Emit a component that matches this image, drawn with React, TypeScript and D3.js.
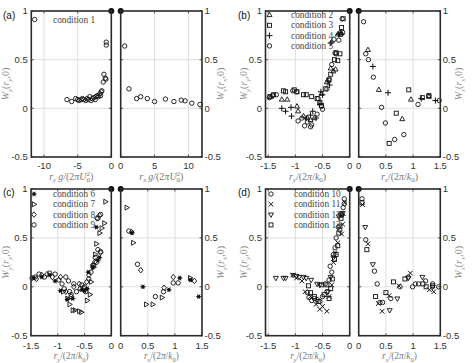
import React from "react";
import * as d3 from "d3";

type Pt = [number, number];

// ---------- DATA ----------
// Panel (a)
const A_LEFT_C1: Pt[] = [[-6.6,0.09],[-5.9,0.07],[-5.3,0.10],[-5.0,0.09],[-4.8,0.08],[-4.5,0.09],[-4.3,0.10],[-4.1,0.09],[-3.8,0.08],[-3.6,0.10],[-3.4,0.09],[-3.2,0.12],[-3.0,0.08],[-2.8,0.10],[-2.6,0.11],[-2.4,0.09],[-2.3,0.12],[-2.1,0.13],[-1.9,0.12],[-1.7,0.15],[-1.6,0.13],[-1.5,0.17],[-1.4,0.18],[-1.2,0.27],[-1.1,0.35],[-0.9,0.31],[-0.8,0.30],[-0.75,0.68],[-0.75,0.65]];
const A_RIGHT_C1: Pt[] = [[0.59,0.64],[1.22,0.20],[2.35,0.10],[2.95,0.12],[3.93,0.10],[5.0,0.07],[6.6,0.095],[7.86,0.07],[8.94,0.084],[9.5,0.077],[10.5,0.053],[11.7,0.04]];

// Panel (b)
const B_LEFT_C2: Pt[] = [[-1.45,0.12],[-1.25,0.09],[-1.15,0.09],[-0.97,0.02],[-0.95,-0.03],[-0.85,-0.08],[-0.78,-0.10],[-0.72,-0.12],[-0.65,-0.10],[-0.55,0.05],[-0.52,0.15],[-0.42,0.27],[-0.35,0.41],[-0.30,0.38],[-0.26,0.40],[-0.22,0.76],[-0.18,0.78],[-0.15,0.77]];
const B_LEFT_C3: Pt[] = [[-1.47,0.12],[-1.40,0.14],[-1.22,0.18],[-1.18,0.17],[-1.02,0.19],[-0.97,0.17],[-0.85,0.14],[-0.80,0.14],[-0.70,0.12],[-0.60,0.10],[-0.55,0.06],[-0.52,0.03],[-0.45,0.20],[-0.38,0.29],[-0.35,0.35],[-0.28,0.50],[-0.25,0.57],[-0.22,0.49],[-0.18,0.56],[-0.17,0.76],[-0.15,0.83],[-0.12,0.92]];
const B_LEFT_C4: Pt[] = [[-1.25,0.00],[-1.18,-0.03],[-1.08,0.01],[-1.07,-0.08],[-0.80,-0.10],[-0.72,-0.07],[-0.68,-0.03],[-0.62,-0.10],[-0.53,0.17],[-0.50,0.14],[-0.40,0.28],[-0.37,0.24],[-0.35,0.67],[-0.33,0.68],[-0.20,0.76]];
const B_LEFT_C5: Pt[] = [[-1.48,0.11],[-1.42,0.13],[-1.35,0.14],[-1.05,0.18],[-0.98,0.17],[-0.95,-0.13],[-0.88,-0.10],[-0.83,-0.18],[-0.78,-0.14],[-0.72,-0.19],[-0.70,-0.17],[-0.60,-0.06],[-0.58,0.10],[-0.52,0.02],[-0.50,-0.01],[-0.42,0.20],[-0.38,0.30],[-0.33,0.45],[-0.29,0.71],[-0.27,0.57],[-0.25,0.56],[-0.20,0.70],[-0.13,0.78],[-0.14,0.92]];
const B_RIGHT_C2: Pt[] = [[0.17,0.60],[0.37,0.19],[0.80,-0.11],[0.96,0.09],[1.29,0.12]];
const B_RIGHT_C3: Pt[] = [[0.56,-0.36],[0.69,-0.05],[0.92,0.19],[1.17,0.11],[1.29,0.13]];
const B_RIGHT_C4: Pt[] = [[0.26,0.43],[0.54,0.16],[1.15,0.10],[1.41,0.08]];
const B_RIGHT_C5: Pt[] = [[0.09,0.89],[0.13,0.56],[0.18,0.50],[0.27,0.32],[0.42,0.01],[0.49,-0.15],[0.66,-0.32],[0.83,-0.27],[1.09,0.04],[1.29,0.13],[1.48,0.08]];

// Panel (c)
const C_LEFT_C6: Pt[] = [[-1.45,0.09],[-1.3,0.10],[-1.15,0.12],[-1.05,0.06],[-0.95,-0.04],[-0.82,-0.13],[-0.72,-0.12],[-0.55,-0.03],[-0.5,-0.04],[-0.45,-0.02],[-0.43,0.15],[-0.35,0.20],[-0.28,0.61],[-0.25,0.27],[-0.22,0.30]];
const C_LEFT_C7: Pt[] = [[-0.90,-0.05],[-0.82,-0.12],[-0.78,-0.18],[-0.72,-0.24],[-0.68,-0.24],[-0.60,-0.25],[-0.56,-0.26],[-0.45,-0.14],[-0.40,-0.08],[-0.38,0.05],[-0.33,0.20],[-0.30,0.33],[-0.28,0.44],[-0.22,0.55],[-0.18,0.60],[-0.13,0.65],[-0.11,0.87]];
const C_LEFT_C8: Pt[] = [[-1.40,0.08],[-1.30,0.12],[-1.20,0.13],[-1.10,0.10],[-0.95,0.10],[-0.85,-0.05],[-0.75,-0.10],[-0.70,0.0],[-0.60,0.03],[-0.52,-0.01],[-0.46,0.05],[-0.42,0.12],[-0.35,0.22],[-0.30,0.26],[-0.27,0.70],[-0.22,0.73],[-0.20,0.35]];
const C_LEFT_C9: Pt[] = [[-1.48,0.09],[-1.42,0.10],[-1.35,0.13],[-1.25,0.10],[-1.15,0.14],[-1.05,0.13],[-0.98,0.07],[-0.92,0.03],[-0.88,-0.02],[-0.85,0.10],[-0.80,0.06],[-0.78,-0.05],[-0.75,-0.08],[-0.70,0.03],[-0.65,-0.05],[-0.58,-0.02],[-0.55,0.02],[-0.50,0.0],[-0.48,-0.05],[-0.42,0.08],[-0.38,0.15],[-0.33,0.22],[-0.30,0.30],[-0.28,0.25],[-0.25,0.38],[-0.20,0.36],[-0.25,0.70],[-0.20,0.74]];
const C_RIGHT_C6: Pt[] = [[0.21,0.55],[0.41,0.0],[0.89,-0.03],[1.09,0.09],[1.29,0.07],[1.44,-0.10]];
const C_RIGHT_C7: Pt[] = [[0.11,0.81],[0.23,0.45],[0.47,-0.18],[0.59,-0.18],[0.76,-0.11],[1.28,0.09]];
const C_RIGHT_C8: Pt[] = [[0.20,0.56],[0.37,0.17],[0.80,-0.01],[0.97,0.10],[1.36,0.06]];
const C_RIGHT_C9: Pt[] = [[0.15,0.57],[0.31,0.23],[0.64,-0.10],[0.79,-0.05],[0.97,0.04],[1.06,0.04]];

// Panel (d)
const D_LEFT_C10: Pt[] = [[-0.78,-0.06],[-0.75,-0.11],[-0.70,-0.14],[-0.65,-0.12],[-0.60,-0.13],[-0.55,-0.15],[-0.50,-0.10],[-0.45,0.03],[-0.42,-0.05],[-0.38,0.07],[-0.36,0.21],[-0.33,0.15],[-0.30,0.33],[-0.27,0.40],[-0.25,0.50],[-0.21,0.61],[-0.18,0.58],[-0.15,0.73],[-0.12,0.81],[-0.10,0.90],[-0.10,0.85]];
const D_LEFT_C11: Pt[] = [[-1.05,0.12],[-0.98,0.09],[-0.88,0.06],[-0.82,-0.05],[-0.72,-0.10],[-0.62,-0.18],[-0.55,-0.23],[-0.50,-0.20],[-0.42,-0.25],[-0.38,-0.10],[-0.33,0.02],[-0.30,0.25],[-0.27,0.35],[-0.22,0.45],[-0.15,0.54],[-0.13,0.64],[-0.12,0.75],[-0.09,0.86]];
const D_LEFT_C12: Pt[] = [[-1.36,0.09],[-1.22,0.09],[-1.18,0.09],[-1.04,0.12],[-0.98,0.11],[-0.93,0.10],[-0.85,0.10],[-0.80,0.09],[-0.71,0.07],[-0.60,0.03],[-0.55,0.02],[-0.40,-0.05],[-0.35,0.10],[-0.30,0.30],[-0.20,0.72],[-0.17,0.74]];
const D_LEFT_C13: Pt[] = [[-0.76,0.01],[-0.72,-0.06],[-0.65,-0.10],[-0.58,-0.15],[-0.52,0.02],[-0.47,-0.08],[-0.42,0.02],[-0.38,-0.12],[-0.35,-0.02],[-0.32,0.08],[-0.28,0.28],[-0.25,0.33],[-0.22,0.42],[-0.20,0.55],[-0.18,0.62],[-0.16,0.70],[-0.14,0.75]];
const D_RIGHT_C10: Pt[] = [[0.06,0.90],[0.13,0.48],[0.29,0.16],[0.34,0.03],[0.39,-0.16],[0.44,-0.16],[0.59,-0.12],[0.76,0.00],[0.91,0.10],[0.99,0.0],[1.04,0.03],[1.10,0.03],[1.23,0.06],[1.36,0.03],[1.47,0.0]];
const D_RIGHT_C11: Pt[] = [[0.07,0.84],[0.17,0.44],[0.36,-0.17],[0.43,-0.25],[0.56,-0.09],[0.74,0.01],[0.95,0.14],[1.30,-0.03],[1.38,-0.05]];
const D_RIGHT_C12: Pt[] = [[0.12,0.61],[0.26,0.23],[0.57,-0.24],[0.71,-0.12],[0.91,0.09],[1.17,0.10],[1.36,0.0]];
const D_RIGHT_C13: Pt[] = [[0.06,0.86],[0.15,0.38],[0.31,-0.10],[0.50,-0.06],[0.64,0.05],[0.85,0.08],[1.18,0.03],[1.24,0.0],[1.36,0.01]];

const ORIGIN_POINT: Pt[] = [[0, 1]];

const Y_TICKS = [-0.5, 0, 0.5, 1];
const X_TICKS_A_LEFT = [-10, -5, 0];
const X_TICKS_A_RIGHT = [0, 5, 10];
const X_TICKS_LEFT = [-1.5, -1, -0.5, 0];
const X_TICKS_RIGHT = [0, 0.5, 1, 1.5];

// ---------- RENDER HELPERS ----------
type Kind = "circle" | "triUp" | "triDown" | "triRight" | "square" | "diamond" | "plus" | "cross" | "star" | "dot";
const INK = "#111";

function Marker({ kind, x, y }: { kind: Kind; x: number; y: number }) {
  const sw = 0.9;
  const common = { fill: "none", stroke: INK, strokeWidth: sw };
  switch (kind) {
    case "circle":
      return <circle cx={x} cy={y} r={2.2} {...common} />;
    case "triUp":
      return <path d={`M${x},${y - 2.8}L${x + 2.5},${y + 1.6}L${x - 2.5},${y + 1.6}Z`} {...common} />;
    case "triDown":
      return <path d={`M${x},${y + 2.8}L${x + 2.5},${y - 1.6}L${x - 2.5},${y - 1.6}Z`} {...common} />;
    case "triRight":
      return <path d={`M${x + 2.8},${y}L${x - 1.6},${y - 2.5}L${x - 1.6},${y + 2.5}Z`} {...common} />;
    case "square":
      return <rect x={x - 2} y={y - 2} width={4} height={4} {...common} />;
    case "diamond":
      return <path d={`M${x},${y - 2.8}L${x + 2.3},${y}L${x},${y + 2.8}L${x - 2.3},${y}Z`} {...common} />;
    case "plus":
      return <path d={`M${x - 3},${y}H${x + 3}M${x},${y - 3}V${y + 3}`} {...common} strokeWidth={1} />;
    case "cross":
      return <path d={`M${x - 2.3},${y - 2.3}L${x + 2.3},${y + 2.3}M${x - 2.3},${y + 2.3}L${x + 2.3},${y - 2.3}`} {...common} strokeWidth={1} />;
    case "star":
      return (
        <g>
          <circle cx={x} cy={y} r={1.7} fill={INK} />
          <path d={`M${x - 2.6},${y}H${x + 2.6}M${x - 1.3},${y - 2.3}L${x + 1.3},${y + 2.3}M${x - 1.3},${y + 2.3}L${x + 1.3},${y - 2.3}`} stroke={INK} strokeWidth={0.9} />
        </g>
      );
    case "dot":
      return <circle cx={x} cy={y} r={3} fill={INK} />;
  }
  return null;
}

type Seg = { t: string; it?: boolean; sub?: boolean; sup?: boolean; dx?: number };
function rich(segs: Seg[], fs: number) {
  let cur = 0;
  return segs.map((s, i) => {
    const target = s.sub ? fs * 0.26 : s.sup ? -fs * 0.4 : 0;
    const dy = target - cur;
    cur = target;
    return (
      <tspan key={i} dy={dy} dx={s.dx ?? 0} fontSize={s.sub || s.sup ? fs * 0.7 : fs} fontStyle={s.it ? "italic" : "normal"}>
        {s.t}
      </tspan>
    );
  });
}

const WY: Seg[] = [{ t: "W", it: true }, { t: "y", it: true, sub: true }, { t: "(" }, { t: "r", it: true }, { t: "y", it: true, sub: true }, { t: ",0)" }];
const WX: Seg[] = [{ t: "W", it: true }, { t: "x", it: true, sub: true }, { t: "(" }, { t: "r", it: true }, { t: "x", it: true, sub: true }, { t: ",0)" }];
const XL_A_L: Seg[] = [{ t: "r", it: true }, { t: "y", it: true, sub: true }, { t: "\u2009g", it: true }, { t: "/(2" }, { t: "π", it: true }, { t: "U", it: true }, { t: "0", sub: true }, { t: "2", sup: true, dx: -3.5 }, { t: ")" }];
const XL_A_R: Seg[] = [{ t: "r", it: true }, { t: "x", it: true, sub: true }, { t: "\u2009g", it: true }, { t: "/(2" }, { t: "π", it: true }, { t: "U", it: true }, { t: "0", sub: true }, { t: "2", sup: true, dx: -3.5 }, { t: ")" }];
const XL_L: Seg[] = [{ t: "r", it: true }, { t: "y", it: true, sub: true }, { t: "/(2" }, { t: "π", it: true }, { t: "/" }, { t: "k", it: true }, { t: "0", sub: true }, { t: ")" }];
const XL_R: Seg[] = [{ t: "r", it: true }, { t: "x", it: true, sub: true }, { t: "/(2" }, { t: "π", it: true }, { t: "/" }, { t: "k", it: true }, { t: "0", sub: true }, { t: ")" }];

type Series = { kind: Kind; data: Pt[] };
type SubCfg = {
  x0: number; x1: number; top: number; bottom: number;
  domain: [number, number]; ticks: number[]; side: "left" | "right";
  series: Series[]; xlabel: Seg[]; ylabel: Seg[]; ylabelX: number;
  tickBase: number; xlabelBase: number; xlabelSize: number;
};

const SANS = "'Liberation Sans', Arial, Helvetica, sans-serif";
const SERIF = "'Liberation Serif', 'DejaVu Serif', serif";

function Subplot({ c }: { c: SubCfg }) {
  const xs = d3.scaleLinear().domain(c.domain).range([c.x0, c.x1]);
  const ys = d3.scaleLinear().domain([-0.5, 1]).range([c.bottom, c.top]);
  const gridX = c.ticks.filter((t) => xs(t) > c.x0 + 1 && xs(t) < c.x1 - 1);
  const gridY = Y_TICKS.filter((t) => t > -0.5 && t < 1);
  const tl = 2.5;
  const yMid = (c.top + c.bottom) / 2;
  return (
    <g>
      {gridX.map((t) => (
        <line key={"gx" + t} x1={xs(t)} x2={xs(t)} y1={c.top} y2={c.bottom} stroke="#dddddd" strokeWidth={0.9} />
      ))}
      {gridY.map((t) => (
        <line key={"gy" + t} x1={c.x0} x2={c.x1} y1={ys(t)} y2={ys(t)} stroke="#dddddd" strokeWidth={0.9} />
      ))}
      {c.ticks.map((t) => (
        <g key={"tx" + t}>
          <line x1={xs(t)} x2={xs(t)} y1={c.bottom} y2={c.bottom - tl} stroke="#333" strokeWidth={0.8} />
          <line x1={xs(t)} x2={xs(t)} y1={c.top} y2={c.top + tl} stroke="#333" strokeWidth={0.8} />
          <text x={xs(t)} y={c.tickBase} textAnchor="middle" fontFamily={SANS} fontSize={9.5} fill="#333">
            {String(t)}
          </text>
        </g>
      ))}
      {Y_TICKS.map((t) => (
        <g key={"ty" + t}>
          <line x1={c.x0} x2={c.x0 + tl} y1={ys(t)} y2={ys(t)} stroke="#333" strokeWidth={0.8} />
          <line x1={c.x1} x2={c.x1 - tl} y1={ys(t)} y2={ys(t)} stroke="#333" strokeWidth={0.8} />
          <text
            x={c.side === "left" ? c.x0 - 3.5 : c.x1 + 2.5}
            y={ys(t) + 3.4}
            textAnchor={c.side === "left" ? "end" : "start"}
            fontFamily={SANS}
            fontSize={9.5}
            fill="#333"
          >
            {String(t)}
          </text>
        </g>
      ))}
      {c.series.map((s, si) => (
        <g key={"s" + si}>
          {s.data.map((p, pi) => (
            <Marker key={pi} kind={s.kind} x={xs(p[0])} y={ys(p[1])} />
          ))}
        </g>
      ))}
      {ORIGIN_POINT.map((p, i) => (
        <Marker key={"o" + i} kind="dot" x={xs(p[0])} y={ys(p[1])} />
      ))}
      <rect x={c.x0} y={c.top} width={c.x1 - c.x0} height={c.bottom - c.top} fill="none" stroke="#2a2a2a" strokeWidth={1.6} />
      <text x={(c.x0 + c.x1) / 2} y={c.xlabelBase} textAnchor="middle" fontFamily={SERIF} fill="#777">
        {rich(c.xlabel, c.xlabelSize)}
      </text>
      <text
        transform={`translate(${c.ylabelX},${yMid}) rotate(-90)`}
        textAnchor="middle"
        fontFamily={SERIF}
        fill="#888"
      >
        {rich(c.ylabel, 10)}
      </text>
    </g>
  );
}

type LegendCfg = { markerX: number; textX: number; rows: number[]; items: { kind: Kind; label: string }[] };
function Legend({ l }: { l: LegendCfg }) {
  return (
    <g>
      {l.items.map((it, i) => (
        <g key={i}>
          <Marker kind={it.kind} x={l.markerX} y={l.rows[i]} />
          <text x={l.textX} y={l.rows[i] + 3} fontFamily={SERIF} fontSize={9.3} fill="#444">
            {it.label}
          </text>
        </g>
      ))}
    </g>
  );
}

// ---------- LAYOUT ----------
const ROW1 = { top: 11, bottom: 157, tickBase: 168.5, xlabelBase: 179.5, xlabelSize: 10 };
const ROW2 = { top: 189, bottom: 335.7, tickBase: 348.5, xlabelBase: 359.3, xlabelSize: 9.4 };

const SUBPLOTS: SubCfg[] = [
  { x0: 31.3, x1: 111.3, ...ROW1, domain: [-11.9, 0], ticks: X_TICKS_A_LEFT, side: "left", series: [{ kind: "circle", data: A_LEFT_C1 }], xlabel: XL_A_L, ylabel: WY, ylabelX: 9 },
  { x0: 120.7, x1: 202, ...ROW1, domain: [0, 12], ticks: X_TICKS_A_RIGHT, side: "right", series: [{ kind: "circle", data: A_RIGHT_C1 }], xlabel: XL_A_R, ylabel: WX, ylabelX: 224 },
  { x0: 265.5, x1: 349.7, ...ROW1, domain: [-1.55, 0], ticks: X_TICKS_LEFT, side: "left", series: [{ kind: "triUp", data: B_LEFT_C2 }, { kind: "square", data: B_LEFT_C3 }, { kind: "plus", data: B_LEFT_C4 }, { kind: "circle", data: B_LEFT_C5 }], xlabel: XL_L, ylabel: WY, ylabelX: 247 },
  { x0: 358.7, x1: 440.3, ...ROW1, domain: [0, 1.5], ticks: X_TICKS_RIGHT, side: "right", series: [{ kind: "triUp", data: B_RIGHT_C2 }, { kind: "square", data: B_RIGHT_C3 }, { kind: "plus", data: B_RIGHT_C4 }, { kind: "circle", data: B_RIGHT_C5 }], xlabel: XL_R, ylabel: WX, ylabelX: 462 },
  { x0: 31, x1: 111.3, ...ROW2, domain: [-1.5, 0], ticks: X_TICKS_LEFT, side: "left", series: [{ kind: "star", data: C_LEFT_C6 }, { kind: "triRight", data: C_LEFT_C7 }, { kind: "diamond", data: C_LEFT_C8 }, { kind: "circle", data: C_LEFT_C9 }], xlabel: XL_L, ylabel: WY, ylabelX: 9 },
  { x0: 120.7, x1: 202, ...ROW2, domain: [0, 1.5], ticks: X_TICKS_RIGHT, side: "right", series: [{ kind: "star", data: C_RIGHT_C6 }, { kind: "triRight", data: C_RIGHT_C7 }, { kind: "diamond", data: C_RIGHT_C8 }, { kind: "circle", data: C_RIGHT_C9 }], xlabel: XL_R, ylabel: WX, ylabelX: 224 },
  { x0: 265.5, x1: 349.7, ...ROW2, domain: [-1.55, 0], ticks: X_TICKS_LEFT, side: "left", series: [{ kind: "circle", data: D_LEFT_C10 }, { kind: "cross", data: D_LEFT_C11 }, { kind: "triDown", data: D_LEFT_C12 }, { kind: "square", data: D_LEFT_C13 }], xlabel: XL_L, ylabel: WY, ylabelX: 247 },
  { x0: 358.7, x1: 440.3, ...ROW2, domain: [0, 1.5], ticks: X_TICKS_RIGHT, side: "right", series: [{ kind: "circle", data: D_RIGHT_C10 }, { kind: "cross", data: D_RIGHT_C11 }, { kind: "triDown", data: D_RIGHT_C12 }, { kind: "square", data: D_RIGHT_C13 }], xlabel: XL_R, ylabel: WX, ylabelX: 462 },
];

const LEGENDS: LegendCfg[] = [
  { markerX: 34.7, textX: 53, rows: [19.5], items: [{ kind: "circle", label: "condition 1" }] },
  { markerX: 269.5, textX: 291, rows: [15, 25.3, 35.6, 45.9], items: [{ kind: "triUp", label: "condition 2" }, { kind: "square", label: "condition 3" }, { kind: "plus", label: "condition 4" }, { kind: "circle", label: "condition 5" }] },
  { markerX: 34, textX: 53, rows: [194, 204.3, 214.6, 224.9], items: [{ kind: "star", label: "condition 6" }, { kind: "triRight", label: "condition 7" }, { kind: "diamond", label: "condition 8" }, { kind: "circle", label: "condition 9" }] },
  { markerX: 271, textX: 294, rows: [194, 204.3, 214.6, 224.9], items: [{ kind: "circle", label: "condition 10" }, { kind: "cross", label: "condition 11" }, { kind: "triDown", label: "condition 12" }, { kind: "square", label: "condition 13" }] },
];

const PANEL_LABELS = [
  { t: "(a)", x: 3, y: 18.5 },
  { t: "(b)", x: 238, y: 18.5 },
  { t: "(c)", x: 3, y: 195.5 },
  { t: "(d)", x: 238, y: 195.5 },
];

export default function App() {
  return (
    <svg width={474} height={363} style={{ position: "absolute", left: 0, top: 0, background: "#fff" }}>
      <rect width={474} height={363} fill="#fff" />
      {SUBPLOTS.map((c, i) => (
        <Subplot key={i} c={c} />
      ))}
      {LEGENDS.map((l, i) => (
        <Legend key={i} l={l} />
      ))}
      {PANEL_LABELS.map((p) => (
        <text key={p.t} x={p.x} y={p.y} fontFamily={SANS} fontSize={10} fill="#111">
          {p.t}
        </text>
      ))}
    </svg>
  );
}
